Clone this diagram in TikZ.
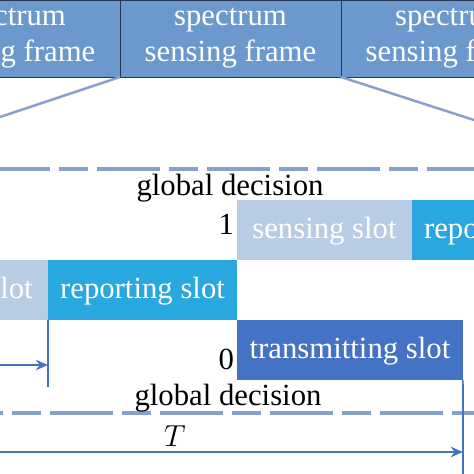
\documentclass[tikz,border=0pt]{standalone}
\usepackage{fontspec}
\setmainfont{Liberation Serif}
\usetikzlibrary{arrows.meta, positioning, calc}

\definecolor{framefill}{RGB}{108,153,205}
\definecolor{frameline}{RGB}{40,55,80}
\definecolor{zoomline}{RGB}{135,160,210}
\definecolor{senseblue}{RGB}{184,204,228}
\definecolor{reportblue}{RGB}{41,168,224}
\definecolor{transblue}{RGB}{68,114,196}

\begin{document}
\begin{tikzpicture}[
    x=0.02cm, y=-0.02cm,
    node distance=0pt,
    every node/.style={font=\fontsize{17.5pt}{20.5pt}\selectfont},
    framenode/.style={draw=frameline, thin, fill=framefill, text=white, minimum width=4.42cm, minimum height=1.54cm, align=center, outer sep=0pt},
    slotnode/.style={text=white, minimum height=1.2cm, outer sep=0pt, inner sep=0pt, text depth=0.6ex},
    sensenode/.style={slotnode, fill=senseblue, minimum width=3.5cm},
    reportnode/.style={slotnode, fill=reportblue, minimum width=3.78cm},
    transnode/.style={slotnode, fill=transblue, minimum width=4.52cm},
    zoomline/.style={draw=zoomline, line width=1.4pt},
    divider/.style={draw=zoomline, line width=2pt, dash pattern=on 1.26cm off 0.18cm on 0.58cm off 0.18cm},
    timearrow/.style={draw=transblue, line width=0.9pt, -{Stealth[length=7pt, width=6pt]}},
    tick/.style={draw=transblue, line width=0.9pt}
]
\clip (0,0) rectangle (474,474);

% Frames
\node[framenode] (frame1) at (230.5,38.5) {spectrum\\sensing frame};
\node[framenode, left=of frame1] (frame0) {spectrum\\sensing frame};
\node[framenode, right=of frame1] (frame2) {spectrum\\sensing frame};

\coordinate (zoomL) at (0,117);
\coordinate (zoomR) at (474,120);
\draw[zoomline] (frame1.south west) -- (zoomL);
\draw[zoomline] (frame1.south east) -- (zoomR);

% Dividers
\coordinate (topL) at (0,169);
\coordinate (topR) at (474,169);
\coordinate (botL) at (0,413);
\coordinate (botR) at (474,413);
\draw[divider, dash phase=0.26cm] (topL) -- (topR);
\draw[divider, dash phase=1.2cm] (botL) -- (botR);

% Slots
\node[sensenode, anchor=north west] (sense1) at (237,200) {sensing slot};
\node[reportnode, right=of sense1] (report1) {reporting slot};
\node[reportnode, anchor=north east] (report0) at (sense1.south west) {reporting slot};
\node[sensenode, left=of report0] (sense0) {sensing slot};
\node[transnode, anchor=north west] (trans) at (report0.south east) {transmitting slot};

% Labels
\node (decision1) at (230,188) {global decision};
\node[anchor=base east, inner sep=1pt] (one) at (236,234) {1};
\node[anchor=base east, inner sep=1pt] (zero) at (236,369) {0};
\node (decision0) at (228,398) {global decision};
\node (period) at (175,436) {$T$};

% Time axis
\coordinate (tick0) at (48,387);
\coordinate (tick1) at (463,474);
\coordinate (start0) at (0,365);
\coordinate (start1) at (0,452);
\draw[tick] (report0.south west) -- (tick0);
\draw[tick] (trans.south east) -- (tick1);
\draw[timearrow] (start0) -- (start0 -| report0.south west);
\draw[timearrow] (start1) -- (start1 -| trans.south east);

\end{tikzpicture}
\end{document}
